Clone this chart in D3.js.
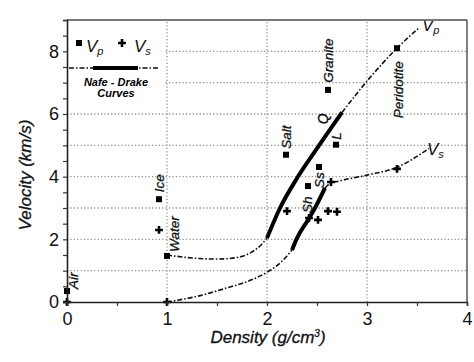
<!DOCTYPE html>
<html>
<head>
<meta charset="utf-8">
<script src="https://cdn.jsdelivr.net/npm/d3@7"></script>
<style>
  body { margin: 0; background: #fff; }
  svg { display: block; font-family: "Liberation Sans", Arial, sans-serif; }
</style>
</head>
<body>
<svg id="chart" width="474" height="362"></svg>
<script>
// rock samples, Vp (squares)
const vpNames = ["Air", "Water", "Ice", "Salt", "Granite", "L", "Sh", "Ss", "Peridotite"];
const vpDensity = [0, 1, 0.92, 2.19, 2.61, 2.69, 2.41, 2.52, 3.3];
const vpVelocity = [0.35, 1.47, 3.28, 4.7, 6.77, 5.02, 3.7, 4.31, 8.1];

// rock samples, Vs (crosses)
const vsDensity = [0, 1, 0.92, 2.2, 2.42, 2.51, 2.61, 2.7, 2.64, 3.3];
const vsVelocity = [0, 0, 2.3, 2.9, 2.68, 2.62, 2.9, 2.88, 3.83, 4.25];

// Nafe-Drake curves: dashed extrapolation + thick fitted part
const vpCurveLow = [[1, 1.5], [1.2, 1.42], [1.5, 1.37], [1.7, 1.42], [1.85, 1.6], [1.95, 1.85], [2.0, 2.04]];
const vpCurveFit = [[2.0, 2.04], [2.13, 3.0], [2.3, 3.95], [2.5, 4.9], [2.75, 6.05]];
const vpCurveHigh = [[2.75, 6.05], [3.0, 7.05], [3.3, 8.1], [3.52, 8.75]];
const vsCurveLow = [[1, 0], [1.3, 0.18], [1.6, 0.45], [1.8, 0.65], [2.0, 0.95], [2.15, 1.3], [2.25, 1.66]];
const vsCurveFit = [[2.25, 1.66], [2.3, 2.04], [2.41, 2.62], [2.48, 3.0], [2.58, 3.64]];
const vsCurveHigh = [[2.58, 3.64], [2.63, 3.78], [2.72, 3.86], [3.0, 4.05], [3.3, 4.3], [3.62, 4.9]];

const xTicks = [0, 1, 2, 3, 4];
const yTicks = [0, 2, 4, 6, 8];

const svg = d3.select("#chart");
const x = d3.scaleLinear().domain([0, 4]).range([67, 467]);
const y = d3.scaleLinear().domain([0, 9]).range([302, 20]);

const grid = "#8c8c8c";

// gridlines
svg.append("g").selectAll("line")
    .data(d3.range(1, 9))
    .enter().append("line")
    .attr("x1", x(0)).attr("x2", x(4))
    .attr("y1", d => y(d)).attr("y2", d => y(d))
    .attr("stroke", grid).attr("stroke-width", 1.3)
    .attr("stroke-dasharray", "1.2,2.2");
svg.append("g").selectAll("line")
    .data([1, 2, 3])
    .enter().append("line")
    .attr("x1", d => x(d)).attr("x2", d => x(d))
    .attr("y1", y(0)).attr("y2", y(9))
    .attr("stroke", grid).attr("stroke-width", 1.3)
    .attr("stroke-dasharray", "1.2,2.2");

// legend box hides the grid behind it
svg.append("rect")
    .attr("x", x(0) + 1).attr("y", y(9) + 1)
    .attr("width", 97).attr("height", 80)
    .attr("fill", "#fff");

// curves
const line = d3.line().x(d => x(d[0])).y(d => y(d[1])).curve(d3.curveMonotoneX);
const dashDot = "5,2,1.5,2";
[vpCurveLow, vpCurveHigh, vsCurveLow, vsCurveHigh].forEach(c => {
    svg.append("path").attr("d", line(c))
        .attr("fill", "none").attr("stroke", "#111")
        .attr("stroke-width", 1.6).attr("stroke-dasharray", dashDot);
});
[vpCurveFit, vsCurveFit].forEach(c => {
    svg.append("path").attr("d", line(c))
        .attr("fill", "none").attr("stroke", "#000")
        .attr("stroke-width", 4);
});

// markers
svg.append("g").selectAll("rect")
    .data(vpDensity)
    .enter().append("rect")
    .attr("x", (d, i) => x(d) - 3).attr("y", (d, i) => y(vpVelocity[i]) - 3)
    .attr("width", 6).attr("height", 6).attr("fill", "#000");

const plus = d3.symbol().type(d3.symbolCross).size(34);
svg.append("g").selectAll("path")
    .data(vsDensity)
    .enter().append("path")
    .attr("d", plus)
    .attr("transform", (d, i) => `translate(${x(d)},${y(vsVelocity[i])})`)
    .attr("fill", "#000");

// rotated rock labels, offsets relative to the square marker
const labelOffset = {
    Air: [11, -2], Water: [12, -4], Ice: [5, -7], Salt: [5, -6], Granite: [5, -7],
    L: [5, -5], Sh: [4, 27], Ss: [5, 21], Peridotite: [6, 70]
};
vpNames.forEach((name, i) => {
    const [dx, dy] = labelOffset[name];
    svg.append("text")
        .attr("transform", `translate(${x(vpDensity[i]) + dx},${y(vpVelocity[i]) + dy}) rotate(-90)`)
        .attr("font-size", 13.5).attr("font-style", "italic")
        .attr("fill", "#111").attr("stroke", "#111").attr("stroke-width", 0.3)
        .text(name);
});
svg.append("text")
    .attr("transform", `translate(${x(2.56) + 5},${y(5.85)}) rotate(-90)`)
    .attr("text-anchor", "middle")
    .attr("font-size", 14).attr("font-style", "italic")
    .attr("stroke", "#111").attr("stroke-width", 0.3)
    .text("Q");

// curve end labels
function vLabel(sub, px, py) {
    const t = svg.append("text").attr("x", px).attr("y", py)
        .attr("font-size", 17).attr("font-style", "italic").attr("fill", "#111");
    t.append("tspan").text("V");
    t.append("tspan").attr("font-size", 11).attr("dy", 3).text(sub);
    return t;
}
vLabel("p", x(3.55), y(8.65));
vLabel("s", x(3.6), y(4.7));

// legend
svg.append("rect").attr("x", 76).attr("y", 40).attr("width", 6).attr("height", 6).attr("fill", "#000");
vLabel("p", 86, 52);
svg.append("path").attr("d", plus).attr("transform", "translate(122,43)").attr("fill", "#000");
vLabel("s", 134, 52);
svg.append("line").attr("x1", 69).attr("x2", 160).attr("y1", 68).attr("y2", 68)
    .attr("stroke", "#111").attr("stroke-width", 1.6).attr("stroke-dasharray", dashDot);
svg.append("line").attr("x1", 93).attr("x2", 138).attr("y1", 68).attr("y2", 68)
    .attr("stroke", "#000").attr("stroke-width", 4);
svg.append("text").attr("x", 116).attr("y", 86)
    .attr("text-anchor", "middle").attr("font-size", 11).attr("font-style", "italic")
    .attr("font-weight", "bold")
    .text("Nafe - Drake");
svg.append("text").attr("x", 116).attr("y", 97)
    .attr("text-anchor", "middle").attr("font-size", 11).attr("font-style", "italic")
    .attr("font-weight", "bold")
    .text("Curves");

// frame
svg.append("line").attr("x1", x(0)).attr("x2", x(4)).attr("y1", y(9)).attr("y2", y(9))
    .attr("stroke", "#777").attr("stroke-width", 2);
svg.append("line").attr("x1", x(4)).attr("x2", x(4)).attr("y1", y(9)).attr("y2", y(0))
    .attr("stroke", "#555").attr("stroke-width", 1.5);

// axes
const xAxis = d3.axisBottom(x).tickValues(d3.range(0, 4.01, 0.5))
    .tickSize(4).tickFormat(d => xTicks.includes(d) ? d : "");
const gx = svg.append("g").attr("transform", `translate(0,${y(0)})`).call(xAxis);
gx.select(".domain").attr("stroke", "#222").attr("stroke-width", 1.6);
gx.selectAll(".tick line").attr("stroke", "#333").attr("stroke-width", 1.2);
gx.selectAll(".tick text").attr("font-size", 18).attr("font-family", "Liberation Sans").attr("fill", "#111").attr("dy", "0.9em");

const yAxis = d3.axisLeft(y).tickValues(d3.range(0, 9.01, 0.5))
    .tickSize(4).tickFormat(d => yTicks.includes(d) ? d : "");
const gy = svg.append("g").attr("transform", `translate(${x(0)},0)`).call(yAxis);
gy.select(".domain").attr("stroke", "#222").attr("stroke-width", 1.6);
gy.selectAll(".tick line").attr("stroke", "#333").attr("stroke-width", 1.2);
gy.selectAll(".tick text").attr("font-size", 18).attr("font-family", "Liberation Sans").attr("fill", "#111").attr("x", -8);

// axis titles
svg.append("text").attr("x", 268).attr("y", 343)
    .attr("text-anchor", "middle").attr("font-size", 17).attr("font-style", "italic")
    .attr("fill", "#111").attr("stroke", "#111").attr("stroke-width", 0.3)
    .html("Density (g/cm<tspan font-size='10' dy='-6'>3</tspan><tspan dy='6'>)</tspan>");
svg.append("text").attr("transform", "translate(31,175) rotate(-90)")
    .attr("text-anchor", "middle").attr("font-size", 17).attr("font-style", "italic")
    .attr("fill", "#111").attr("stroke", "#111").attr("stroke-width", 0.3)
    .text("Velocity (km/s)");
</script>
</body>
</html>
